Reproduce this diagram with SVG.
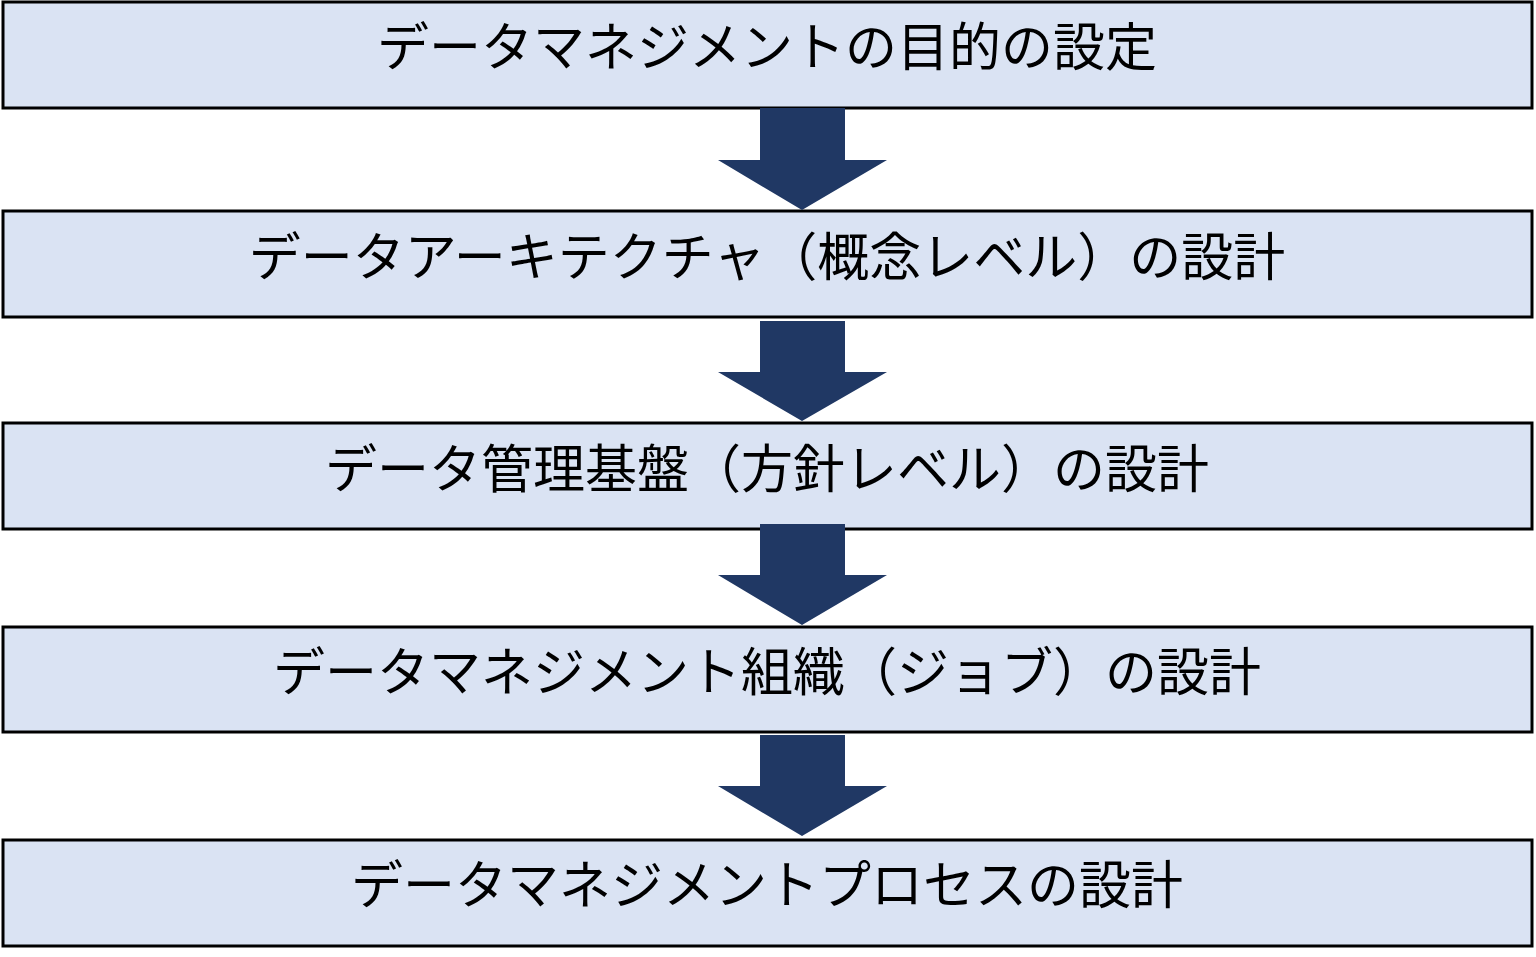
<svg xmlns="http://www.w3.org/2000/svg" width="1536" height="957" viewBox="0 0 1536 957">
<style>
.box{fill:#DAE3F3;stroke:#000;stroke-width:3}
.t{font-family:"Noto Sans CJK JP","Noto Sans",sans-serif;font-size:52px;fill:#000;text-anchor:middle;dominant-baseline:central}
.ar{fill:#203864}
</style>
<rect width="1536" height="957" fill="#fff"/>
<g id="n1"><rect class="box" x="3" y="2" width="1529" height="106"/><text class="t" x="767" y="43">データマネジメントの目的の設定</text></g>
<g id="n2"><rect class="box" x="3" y="211" width="1529" height="106"/><text class="t" x="767" y="253">データアーキテクチャ（概念レベル）の設計</text></g>
<g id="n3"><rect class="box" x="3" y="423" width="1529" height="106"/><text class="t" x="767" y="465">データ管理基盤（方針レベル）の設計</text></g>
<g id="n4"><rect class="box" x="3" y="627" width="1529" height="105"/><text class="t" x="767" y="668">データマネジメント組織（ジョブ）の設計</text></g>
<g id="n5"><rect class="box" x="3" y="840" width="1529" height="106"/><text class="t" x="767" y="881">データマネジメントプロセスの設計</text></g>
<g id="connectors">
<polygon class="ar" points="760,108 845,108 845,160 887,160 802,210 718,160 760,160"/>
<polygon class="ar" points="760,321 845,321 845,372 887,372 802,421 718,372 760,372"/>
<polygon class="ar" points="760,524 845,524 845,575 887,575 802,625 718,575 760,575"/>
<polygon class="ar" points="760,735 845,735 845,786 887,786 802,836 718,786 760,786"/>
</g>
</svg>
